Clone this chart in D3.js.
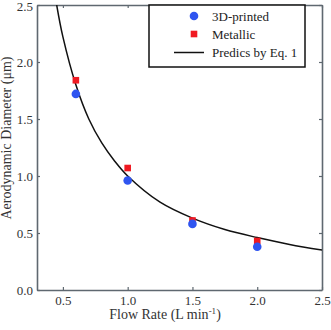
<!DOCTYPE html>
<html><head><meta charset="utf-8">
<script src="https://cdn.jsdelivr.net/npm/d3@7"></script>
<style>body{margin:0;background:#fff}svg{display:block}</style>
</head><body>
<script>
const flowRates = [0.6, 1.0, 1.5, 2.0];
const printed3D = [1.72, 0.96, 0.58, 0.38];
const metallic = [1.84, 1.07, 0.61, 0.43];
const curveQ = [0.452, 0.5, 0.6, 0.7, 0.8, 0.9, 1.0, 1.25, 1.5, 1.75, 2.0, 2.25, 2.5];
const curveD = [2.5, 2.22, 1.8, 1.5, 1.29, 1.13, 1.0, 0.77, 0.63, 0.53, 0.46, 0.40, 0.35];
const xTicks = [0.5, 1.0, 1.5, 2.0, 2.5];
const yTicks = [0.0, 0.5, 1.0, 1.5, 2.0, 2.5];
const legendLabels = ["3D-printed", "Metallic", "Predics by Eq. 1"];

const W = 331, H = 330;
const m = {l: 37, r: 9, t: 5, b: 40};
const svg = d3.select("body").append("svg").attr("width", W).attr("height", H);
const x = d3.scaleLinear().domain([0.3, 2.5]).range([m.l, W - m.r]);
const y = d3.scaleLinear().domain([0, 2.5]).range([H - m.b, m.t]);
const font = "'Liberation Serif', 'Times New Roman', serif";
const axisCol = "#5f6870";

svg.append("defs").append("clipPath").attr("id", "c")
  .append("rect").attr("x", m.l).attr("y", m.t).attr("width", W - m.l - m.r).attr("height", H - m.t - m.b);

function styleAxis(g) {
  g.selectAll("path").attr("stroke", axisCol).attr("stroke-width", 1.6);
  g.selectAll("line").attr("stroke", axisCol).attr("stroke-width", 1.2);
  g.selectAll("text").attr("font-family", font).attr("font-size", 13).attr("fill", "#333");
}
svg.append("g").attr("transform", `translate(0,${H - m.b})`)
  .call(d3.axisBottom(x).tickValues(xTicks).tickFormat(d3.format(".1f")).tickSizeInner(-3).tickSizeOuter(0).tickPadding(6))
  .call(styleAxis);
svg.append("g").attr("transform", `translate(0,${m.t})`)
  .call(d3.axisTop(x).tickValues(xTicks).tickFormat("").tickSizeInner(-3).tickSizeOuter(0))
  .call(styleAxis);
const ya = svg.append("g").attr("transform", `translate(${m.l},0)`)
  .call(d3.axisLeft(y).tickValues(yTicks).tickFormat(d3.format(".1f")).tickSizeInner(-3).tickSizeOuter(0).tickPadding(4))
  .call(styleAxis);
ya.selectAll(".tick text").filter(d => d === 2.5).attr("dy", "0.45em");
svg.append("g").attr("transform", `translate(${W - m.r},0)`)
  .call(d3.axisRight(y).tickValues(yTicks).tickFormat("").tickSizeInner(-3).tickSizeOuter(0))
  .call(styleAxis);

const curvePts = curveQ.map((q, i) => [q, curveD[i]]);
svg.append("path").datum(curvePts)
  .attr("clip-path", "url(#c)")
  .attr("fill", "none").attr("stroke", "#111").attr("stroke-width", 1.5)
  .attr("d", d3.line().x(d => x(d[0])).y(d => y(d[1])).curve(d3.curveCatmullRom));

const blue = "#2f55f0", red = "#f01a22";
svg.append("g").selectAll("rect").data(flowRates).join("rect")
  .attr("x", d => x(d) - 3.3).attr("y", (d, i) => y(metallic[i]) - 3.3)
  .attr("width", 6.6).attr("height", 6.6).attr("fill", red);
svg.append("g").selectAll("circle").data(flowRates).join("circle")
  .attr("cx", d => x(d)).attr("cy", (d, i) => y(printed3D[i])).attr("r", 4.3).attr("fill", blue);

// legend
const lg = svg.append("g");
lg.append("rect").attr("x", 149).attr("y", 5).attr("width", 156).attr("height", 62)
  .attr("fill", "#fff").attr("stroke", "#111").attr("stroke-width", 1.5);
lg.append("circle").attr("cx", 194).attr("cy", 16).attr("r", 4.3).attr("fill", blue);
lg.append("rect").attr("x", 190.7).attr("y", 30.7).attr("width", 6.6).attr("height", 6.6).attr("fill", red);
lg.append("line").attr("x1", 174).attr("x2", 204).attr("y1", 52.5).attr("y2", 52.5).attr("stroke", "#111").attr("stroke-width", 1.5);
[16, 34, 52.5].forEach((yy, i) => {
  lg.append("text").attr("x", 212).attr("y", yy).attr("dy", "0.35em")
    .attr("font-family", font).attr("font-size", 13).attr("fill", "#222").text(legendLabels[i]);
});

// axis titles
const xt = svg.append("text").attr("x", 165).attr("y", 319)
  .attr("text-anchor", "middle").attr("font-family", font).attr("font-size", 14).attr("fill", "#333");
xt.append("tspan").text("Flow Rate (L min");
xt.append("tspan").attr("dy", -5).attr("font-size", 9).text("-1");
xt.append("tspan").attr("dy", 5).text(")");
svg.append("text").attr("transform", `translate(11,138) rotate(-90)`)
  .attr("text-anchor", "middle").attr("font-family", font).attr("font-size", 14).attr("fill", "#333")
  .text("Aerodynamic Diameter (μm)");
</script>
</body></html>
